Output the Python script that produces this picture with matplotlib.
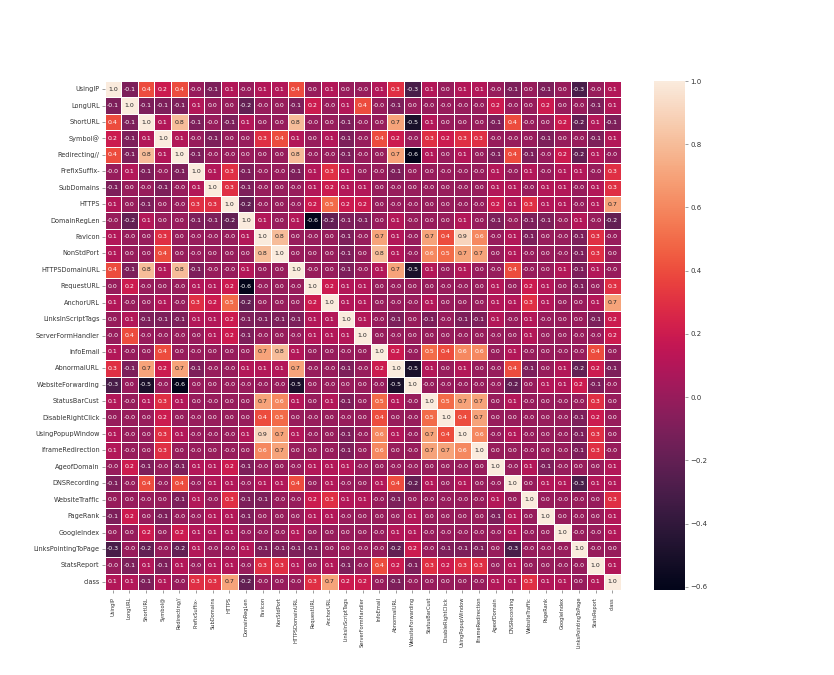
import numpy as np
import pandas as pd
import matplotlib
matplotlib.use("Agg")
import matplotlib.pyplot as plt
import seaborn as sns

features = ["UsingIP", "LongURL", "ShortURL", "Symbol@", "Redirecting//", "PrefixSuffix-",
            "SubDomains", "HTTPS", "DomainRegLen", "Favicon", "NonStdPort", "HTTPSDomainURL",
            "RequestURL", "AnchorURL", "LinksInScriptTags", "ServerFormHandler", "InfoEmail",
            "AbnormalURL", "WebsiteForwarding", "StatusBarCust", "DisableRightClick",
            "UsingPopupWindow", "IframeRedirection", "AgeofDomain", "DNSRecording",
            "WebsiteTraffic", "PageRank", "GoogleIndex", "LinksPointingToPage", "StatsReport",
            "class"]

# correlation values, -0.0 is kept on purpose for the annotations
corr_rows = [
    [1.0, -0.1, 0.4, 0.2, 0.4, -0.0, -0.1, 0.1, -0.0, 0.1, 0.1, 0.4, 0.0, 0.1, 0.0, -0.0, 0.1, 0.3, -0.3, 0.1, 0.0, 0.1, 0.1, -0.0, -0.1, 0.0, -0.1, 0.0, -0.3, -0.0, 0.1],
    [-0.1, 1.0, -0.1, -0.1, -0.1, 0.1, 0.0, 0.0, -0.2, -0.0, 0.0, -0.1, 0.2, -0.0, 0.1, 0.4, -0.0, -0.1, 0.0, -0.0, -0.0, -0.0, -0.0, 0.2, -0.0, 0.0, 0.2, 0.0, -0.0, -0.1, 0.1],
    [0.4, -0.1, 1.0, 0.1, 0.8, -0.1, -0.0, -0.1, 0.1, 0.0, 0.0, 0.8, -0.0, 0.0, -0.1, -0.0, 0.0, 0.7, -0.5, 0.1, 0.0, 0.0, 0.0, -0.1, 0.4, -0.0, 0.0, 0.2, -0.2, 0.1, -0.1],
    [0.2, -0.1, 0.1, 1.0, 0.1, -0.0, -0.1, 0.0, 0.0, 0.3, 0.4, 0.1, 0.0, 0.1, -0.1, -0.0, 0.4, 0.2, -0.0, 0.3, 0.2, 0.3, 0.3, -0.0, -0.0, 0.0, -0.1, 0.0, -0.0, -0.1, 0.1],
    [0.4, -0.1, 0.8, 0.1, 1.0, -0.1, -0.0, -0.0, 0.0, 0.0, 0.0, 0.8, -0.0, -0.0, -0.1, -0.0, 0.0, 0.7, -0.6, 0.1, 0.0, 0.1, 0.0, -0.1, 0.4, -0.1, -0.0, 0.2, -0.2, 0.1, -0.0],
    [-0.0, 0.1, -0.1, -0.0, -0.1, 1.0, 0.1, 0.3, -0.1, -0.0, -0.0, -0.1, 0.1, 0.3, 0.1, 0.0, -0.0, -0.1, 0.0, 0.0, -0.0, -0.0, -0.0, 0.1, -0.0, 0.1, -0.0, 0.1, 0.1, -0.0, 0.3],
    [-0.1, 0.0, -0.0, -0.1, -0.0, 0.1, 1.0, 0.3, -0.1, -0.0, 0.0, -0.0, 0.1, 0.2, 0.1, 0.1, 0.0, -0.0, 0.0, -0.0, 0.0, -0.0, 0.0, 0.1, 0.1, -0.0, 0.1, 0.1, -0.0, 0.1, 0.3],
    [0.1, 0.0, -0.1, 0.0, -0.0, 0.3, 0.3, 1.0, -0.2, -0.0, 0.0, -0.0, 0.2, 0.5, 0.2, 0.2, 0.0, -0.0, -0.0, 0.0, 0.0, -0.0, -0.0, 0.2, 0.1, 0.3, 0.1, 0.1, -0.0, 0.1, 0.7],
    [-0.0, -0.2, 0.1, 0.0, 0.0, -0.1, -0.1, -0.2, 1.0, 0.1, 0.0, 0.1, -0.6, -0.2, -0.1, -0.1, 0.0, 0.1, -0.0, 0.0, 0.0, 0.1, 0.0, -0.1, -0.0, -0.1, -0.1, -0.0, 0.1, -0.0, -0.2],
    [0.1, -0.0, 0.0, 0.3, 0.0, -0.0, -0.0, -0.0, 0.1, 1.0, 0.8, 0.0, -0.0, 0.0, -0.1, -0.0, 0.7, 0.1, -0.0, 0.7, 0.4, 0.9, 0.6, -0.0, 0.1, -0.1, 0.0, -0.0, -0.1, 0.3, -0.0],
    [0.1, 0.0, 0.0, 0.4, 0.0, -0.0, 0.0, 0.0, 0.0, 0.8, 1.0, 0.0, 0.0, 0.0, -0.1, 0.0, 0.8, 0.1, -0.0, 0.6, 0.5, 0.7, 0.7, 0.0, 0.1, -0.0, 0.0, -0.0, -0.1, 0.3, 0.0],
    [0.4, -0.1, 0.8, 0.1, 0.8, -0.1, -0.0, -0.0, 0.1, 0.0, 0.0, 1.0, -0.0, 0.0, -0.1, -0.0, 0.1, 0.7, -0.5, 0.1, 0.0, 0.1, 0.0, -0.0, 0.4, -0.0, 0.0, 0.1, -0.1, 0.1, -0.0],
    [0.0, 0.2, -0.0, 0.0, -0.0, 0.1, 0.1, 0.2, -0.6, -0.0, 0.0, -0.0, 1.0, 0.2, 0.1, 0.1, 0.0, -0.0, 0.0, 0.0, -0.0, -0.0, 0.0, 0.1, 0.0, 0.2, 0.1, 0.0, -0.1, 0.0, 0.3],
    [0.1, -0.0, 0.0, 0.1, -0.0, 0.3, 0.2, 0.5, -0.2, 0.0, 0.0, 0.0, 0.2, 1.0, 0.1, 0.1, 0.0, -0.0, -0.0, 0.1, 0.0, 0.0, 0.0, 0.1, 0.1, 0.3, 0.1, 0.0, 0.0, 0.1, 0.7],
    [0.0, 0.1, -0.1, -0.1, -0.1, 0.1, 0.1, 0.2, -0.1, -0.1, -0.1, -0.1, 0.1, 0.1, 1.0, 0.1, -0.0, -0.1, 0.0, -0.1, -0.0, -0.1, -0.1, 0.1, -0.0, 0.1, -0.0, 0.0, 0.0, -0.1, 0.2],
    [-0.0, 0.4, -0.0, -0.0, -0.0, 0.0, 0.1, 0.2, -0.1, -0.0, 0.0, -0.0, 0.1, 0.1, 0.1, 1.0, 0.0, -0.0, 0.0, 0.0, 0.0, -0.0, 0.0, -0.0, 0.0, 0.1, 0.0, 0.0, -0.0, -0.0, 0.2],
    [0.1, -0.0, 0.0, 0.4, 0.0, -0.0, 0.0, 0.0, 0.0, 0.7, 0.8, 0.1, 0.0, 0.0, -0.0, 0.0, 1.0, 0.2, -0.0, 0.5, 0.4, 0.6, 0.6, 0.0, 0.1, -0.0, 0.0, -0.0, -0.0, 0.4, 0.0],
    [0.3, -0.1, 0.7, 0.2, 0.7, -0.1, -0.0, -0.0, 0.1, 0.1, 0.1, 0.7, -0.0, -0.0, -0.1, -0.0, 0.2, 1.0, -0.5, 0.1, 0.0, 0.1, 0.0, -0.0, 0.4, -0.1, 0.0, 0.1, -0.2, 0.2, -0.1],
    [-0.3, 0.0, -0.5, -0.0, -0.6, 0.0, 0.0, -0.0, -0.0, -0.0, -0.0, -0.5, 0.0, -0.0, 0.0, 0.0, -0.0, -0.5, 1.0, -0.0, -0.0, -0.0, -0.0, -0.0, -0.2, 0.0, 0.1, 0.1, 0.2, -0.1, -0.0],
    [0.1, -0.0, 0.1, 0.3, 0.1, 0.0, -0.0, 0.0, 0.0, 0.7, 0.6, 0.1, 0.0, 0.1, -0.1, 0.0, 0.5, 0.1, -0.0, 1.0, 0.5, 0.7, 0.7, 0.0, 0.1, -0.0, 0.0, -0.0, -0.0, 0.3, 0.0],
    [0.0, -0.0, 0.0, 0.2, 0.0, -0.0, 0.0, 0.0, 0.0, 0.4, 0.5, 0.0, -0.0, 0.0, -0.0, 0.0, 0.4, 0.0, -0.0, 0.5, 1.0, 0.4, 0.7, 0.0, 0.0, -0.0, 0.0, -0.0, -0.1, 0.2, 0.0],
    [0.1, -0.0, 0.0, 0.3, 0.1, -0.0, -0.0, -0.0, 0.1, 0.9, 0.7, 0.1, -0.0, 0.0, -0.1, -0.0, 0.6, 0.1, -0.0, 0.7, 0.4, 1.0, 0.6, -0.0, 0.1, -0.0, 0.0, -0.0, -0.1, 0.3, 0.0],
    [0.1, -0.0, 0.0, 0.3, 0.0, -0.0, 0.0, -0.0, 0.0, 0.6, 0.7, 0.0, 0.0, 0.0, -0.1, 0.0, 0.6, 0.0, -0.0, 0.7, 0.7, 0.6, 1.0, 0.0, 0.0, -0.0, 0.0, -0.0, -0.1, 0.3, -0.0],
    [-0.0, 0.2, -0.1, -0.0, -0.1, 0.1, 0.1, 0.2, -0.1, -0.0, 0.0, -0.0, 0.1, 0.1, 0.1, -0.0, 0.0, -0.0, -0.0, 0.0, 0.0, -0.0, 0.0, 1.0, -0.0, 0.1, -0.1, -0.0, 0.0, 0.0, 0.1],
    [-0.1, -0.0, 0.4, -0.0, 0.4, -0.0, 0.1, 0.1, -0.0, 0.1, 0.1, 0.4, 0.0, 0.1, -0.0, 0.0, 0.1, 0.4, -0.2, 0.1, 0.0, 0.1, 0.0, -0.0, 1.0, 0.0, 0.1, 0.1, -0.3, 0.1, 0.1],
    [0.0, 0.0, -0.0, 0.0, -0.1, 0.1, -0.0, 0.3, -0.1, -0.1, -0.0, -0.0, 0.2, 0.3, 0.1, 0.1, -0.0, -0.1, 0.0, -0.0, -0.0, -0.0, -0.0, 0.1, 0.0, 1.0, 0.0, -0.0, -0.0, 0.0, 0.3],
    [-0.1, 0.2, 0.0, -0.1, -0.0, -0.0, 0.1, 0.1, -0.1, 0.0, 0.0, 0.0, 0.1, 0.1, -0.0, 0.0, 0.0, 0.0, 0.1, 0.0, 0.0, 0.0, 0.0, -0.1, 0.1, 0.0, 1.0, 0.0, -0.0, 0.0, 0.1],
    [0.0, 0.0, 0.2, 0.0, 0.2, 0.1, 0.1, 0.1, -0.0, -0.0, -0.0, 0.1, 0.0, 0.0, 0.0, 0.0, -0.0, 0.1, 0.1, -0.0, -0.0, -0.0, -0.0, -0.0, 0.1, -0.0, 0.0, 1.0, -0.0, -0.0, 0.1],
    [-0.3, -0.0, -0.2, -0.0, -0.2, 0.1, -0.0, -0.0, 0.1, -0.1, -0.1, -0.1, -0.1, 0.0, 0.0, -0.0, -0.0, -0.2, 0.2, -0.0, -0.1, -0.1, -0.1, 0.0, -0.3, -0.0, -0.0, -0.0, 1.0, -0.0, 0.0],
    [-0.0, -0.1, 0.1, -0.1, 0.1, -0.0, 0.1, 0.1, -0.0, 0.3, 0.3, 0.1, 0.0, 0.1, -0.1, -0.0, 0.4, 0.2, -0.1, 0.3, 0.2, 0.3, 0.3, 0.0, 0.1, 0.0, 0.0, -0.0, -0.0, 1.0, 0.1],
    [0.1, 0.1, -0.1, 0.1, -0.0, 0.3, 0.3, 0.7, -0.2, -0.0, 0.0, -0.0, 0.3, 0.7, 0.2, 0.2, 0.0, -0.1, -0.0, 0.0, 0.0, 0.0, -0.0, 0.1, 0.1, 0.3, 0.1, 0.1, 0.0, 0.1, 1.0],
]

corr = pd.DataFrame(corr_rows, index=features, columns=features)

W, H = 834, 675
fig = plt.figure(figsize=(W / 100, H / 100), dpi=100)
ax = fig.add_axes([104.5 / W, 1 - 590 / H, 516 / W, 509 / H])
cax = fig.add_axes([654 / W, 1 - 590 / H, 31 / W, 509 / H])

sns.heatmap(corr, annot=True, fmt=".1f", linewidths=0.5, ax=ax, cbar_ax=cax,
            vmin=-0.61, vmax=1.0, annot_kws={"size": 4.5})

# the original is a scaled-down image, so the labels are small and a little grey
ax.tick_params(axis="y", labelsize=4.7, length=2, width=0.4, labelrotation=0, pad=1.5,
               color="#555555", labelcolor="#333333")
ax.tick_params(axis="x", labelsize=3.7, length=2, width=0.4, labelrotation=90, pad=3,
               color="#555555", labelcolor="#333333")
cax.tick_params(labelsize=5, length=2, width=0.4, pad=2, color="#555555", labelcolor="#333333")

plt.savefig("out.png", dpi=100)
